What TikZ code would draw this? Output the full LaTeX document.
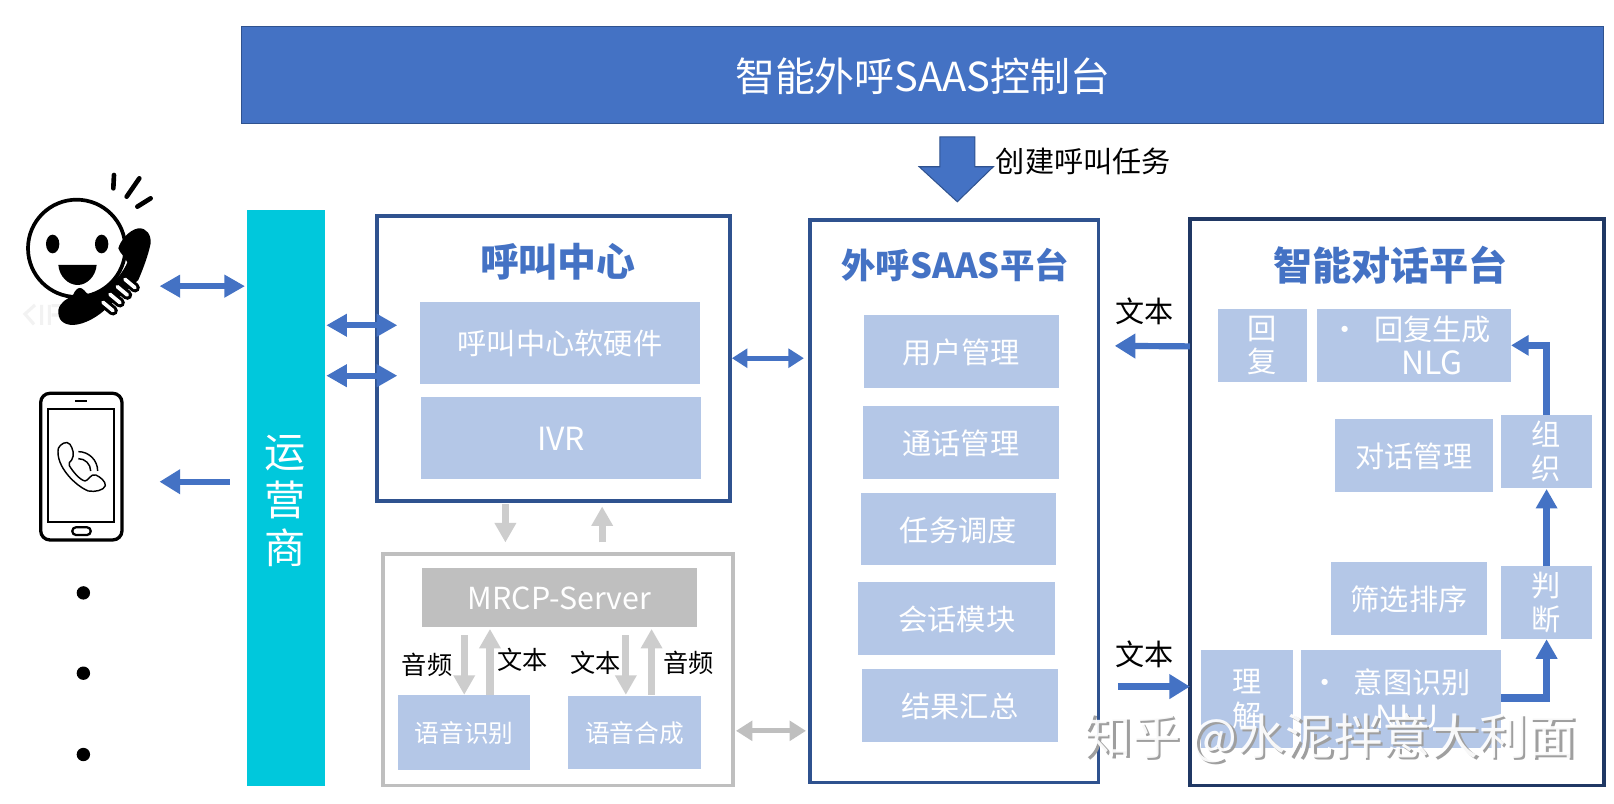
\documentclass[tikz,border=0pt]{standalone}
\usepackage{fontspec}
\setmainfont{Noto Sans CJK SC}
\usetikzlibrary{arrows.meta,calc}
\definecolor{barblue}{HTML}{4472C4}
\definecolor{barline}{HTML}{2F528F}
\definecolor{navy}{HTML}{203864}
\definecolor{lite}{HTML}{B4C7E7}
\definecolor{teal1}{HTML}{00C8DC}
\definecolor{gr}{HTML}{BFBFBF}
\definecolor{grl}{HTML}{CDCDCD}
\newcommand\fz[1]{\fontsize{#1}{#1}\selectfont}
\newcommand\dn[1]{\raisebox{-1pt}[\height][\depth]{#1}}
\tikzset{
  x=1pt,y=-1pt,
  plain/.style={inner sep=0pt,outer sep=0pt,align=center},
  lb/.style={plain,fill=lite,text=white,font=\fz{28.4}},
  frame/.style={plain,draw=barline,line width=3.5pt,fill=white},
  ttl/.style={plain,text=barblue,font=\bfseries\fz{37.8}},
  lab/.style={plain,text=black,font=\fz{28.3}},
  slab/.style={plain,text=black,font=\fz{24.5}},
  opch/.style={plain,text=white,font=\fz{40}},
  blue1/.style={draw=barblue,line width=6pt,-{Triangle[length=20pt,width=23pt]}},
  blue2/.style={draw=barblue,line width=6pt,{Triangle[length=20pt,width=21pt]}-{Triangle[length=20pt,width=21pt]}},
  elbow/.style={draw=barblue,line width=7pt,-{Triangle[length=19pt,width=20pt]}},
  grayA/.style={draw=grl,line width=7pt,-{Triangle[length=19pt,width=20pt]}},
  grayD/.style={draw=gr,line width=5pt,{Triangle[length=16pt,width=19pt]}-{Triangle[length=16pt,width=19pt]}},
  ink/.style={draw=black},
}
\newcommand\bx[7][lb]{\node[#1,minimum width={(#5-#3)*1pt},minimum height={(#6-#4)*1pt}] (#2) at ({(#3+#5)/2},{(#4+#6)/2}) {#7};}
\begin{document}
\begin{tikzpicture}
\useasboundingbox (0,0) rectangle (1568,781);
\fill[white] (0,0) rectangle (1568,781);
% top bar
\bx[plain,fill=barblue,draw=barline,line width=1pt,text=white,font=\fz{38.8}]{top}{235}{26}{1558}{120}{\dn{智能外呼SAAS控制台}}
\coordinate (ta) at (930,133);
\draw[draw=barline,line width=1pt,fill=barblue,line join=miter] (ta) ++(-17,0) -- ++(34,0) -- ++(0,29) -- ++(18,0) -- (930,196) -- (893,162) -- ++(20,0) -- cycle;
\node[lab] (create) at (1052.5,157) {创建呼叫任务};
% operator
\bx[plain,fill=teal1]{op}{240}{204}{316}{764}{}
\node[opch] (op1) at (277,440) {运};
\node[opch] (op2) at (277,486) {营};
\node[opch] (op3) at (277,532) {商};
% call centre
\bx[frame]{cc}{366}{210}{709}{487}{}
\node[ttl] (cct) at (542,254) {呼叫中心};
\bx{hw}{408}{293}{680}{373}{\dn{呼叫中心软硬件}}
\bx[lb,font=\fz{31}]{ivr}{409}{386}{681}{465}{\dn{IVR}}
% MRCP
\bx[plain,draw=gr,line width=3.5pt,fill=white]{mg}{372}{538}{712}{763}{}
\bx[plain,fill=gr,text=white,font=\fz{29.5}]{mrcp}{410}{552}{677}{609}{\dn{MRCP-Server}}
\bx[lb,font=\fz{24}]{asr}{387}{675}{515}{748}{\dn{语音识别}}
\bx[lb,font=\fz{24}]{tts}{552}{676}{681}{747}{\dn{语音合成}}
% SaaS
\bx[frame]{saas}{787}{214}{1067}{760}{}
\node[ttl,font=\bfseries\fz{33.5}] (saast) at (928,257) {外呼SAAS平台};
\bx{s1}{839}{306}{1029}{377}{\dn{用户管理}}
\bx{s2}{838}{394}{1029}{465}{\dn{通话管理}}
\bx{s3}{836}{479}{1026}{549}{\dn{任务调度}}
\bx{s4}{834}{565}{1025}{636}{\dn{会话模块}}
\bx{s5}{837}{650}{1028}{721}{\dn{结果汇总}}
% dialog
\bx[frame,draw=navy]{dlg}{1156}{213}{1558}{763}{}
\node[ttl,font=\bfseries\fz{38}] (dlgt) at (1351,258) {智能对话平台};
\bx[lb,align=center]{reply}{1183}{300}{1270}{371}{回\\[4pt]复}
\bx[lb,align=center]{nlg}{1279}{300}{1468}{371}{•\hspace{14pt}回复生成\hspace*{6pt}\\[4pt]\hspace*{35pt}{\fz{31}NLG}}
\bx{dm}{1297}{407}{1450}{478}{\dn{对话管理}}
\bx[lb,align=center]{org}{1458}{403}{1547}{474}{组\\[4pt]织}
\bx{rank}{1293}{546}{1445}{617}{\dn{筛选排序}}
\bx[lb,align=center]{jud}{1458}{550}{1547}{621}{判\\[4pt]断}
\bx[lb,align=center]{und}{1167}{631}{1256}{727}{理\\[5pt]解}
\bx[lb,align=center]{nlu}{1264}{631}{1458}{727}{•\hspace{14pt}意图识别\hspace*{20pt}\\[5pt]\hspace*{12pt}{\fz{31}NLU}}
% flow in dialog
\coordinate (nluout) at (1458,678);
\draw[elbow] (nluout) -| (jud.south);
\draw[elbow] (jud.north) -- ($(org.south)+(0,1)$);
\draw[elbow,-{Triangle[length=17pt,width=19pt]}] (org.north) |- (nlg.east);
% text arrows
\coordinate (lt) at (1083,336);
\draw[blue1] ($(dlg.west |- reply)+(0,1)$) -- (lt);
\node[lab] (txt1) at (1112,302) {文本};
\coordinate (rt) at (1086,667);
\draw[blue1] (rt) -- (dlg.west |- rt);
\node[lab] (txt2) at (1112,636) {文本};
% left arrows
\coordinate (a1a) at (155,278); \coordinate (a1b) at (238,278);
\draw[blue2] (a1a) -- (a1b);
\coordinate (a2a) at (223,468); \coordinate (a2b) at (155,468);
\draw[blue1] (a2a) -- (a2b);
\coordinate (a3a) at (317,316); \coordinate (a3b) at (386,316);
\draw[blue2] (a3a) -- (a3b);
\coordinate (a4a) at (317,365); \coordinate (a4b) at (386,365);
\draw[blue2] (a4a) -- (a4b);
\coordinate (a5a) at (711,348); \coordinate (a5b) at (781,348);
\draw[blue2,line width=5pt,{Triangle[length=15pt,width=18pt]}-{Triangle[length=15pt,width=18pt]}] (a5a) -- (a5b);
\coordinate (a6a) at (715,710); \coordinate (a6b) at (783,710);
\draw[grayD] (a6a) -- (a6b);
% gray arrows
\coordinate (g1a) at (491,490); \coordinate (g1b) at (491,527);
\draw[grayA] (g1a) -- (g1b);
\coordinate (g2a) at (585,527); \coordinate (g2b) at (585,492);
\draw[grayA] (g2a) -- (g2b);
\coordinate (g3a) at (451,617); \coordinate (g3b) at (451,675);
\draw[grayA] (g3a) -- (g3b);
\coordinate (g4a) at (476,675); \coordinate (g4b) at (476,611);
\draw[grayA] (g4a) -- (g4b);
\coordinate (g5a) at (608,617); \coordinate (g5b) at (608,675);
\draw[grayA] (g5a) -- (g5b);
\coordinate (g6a) at (633,675); \coordinate (g6b) at (633,611);
\draw[grayA] (g6a) -- (g6b);
\node[slab] (m1) at (415,646) {音频};
\node[slab] (m2) at (508,641) {文本};
\node[slab] (m3) at (579,644) {文本};
\node[slab] (m4) at (669,644) {音频};
% dots
\fill[black] (81,576) circle (6.5);
\fill[black] (81,654) circle (6.5);
\fill[black] (81,733) circle (6.5);
% face icon
\begin{scope}[shift={(9.715,160.3)},x=0.3238pt,y=-0.3238pt]
  \draw[black!5,line width=3pt] (75,420) -- (45,447) -- (72,478) (95,420) -- (95,480) (118,420) -- (118,480) (125,422) -- (172,422) (125,450) -- (172,450);
  \draw[black,line width=3.6pt] (200,250) circle (146);
  \fill[black] (128,237) ellipse (20 and 28);
  \fill[black] (275,237) ellipse (20 and 28);
  \fill[black] (145,300) -- (260,300) .. controls (257,335) and (230,360) .. (203,360) .. controls (175,360) and (148,335) .. (145,300) -- cycle;
  \fill[black] (325,250) .. controls (330,230) and (355,195) .. (385,190) .. controls (410,188) and (424,210) .. (422,235)
     .. controls (415,270) and (400,310) .. (385,345) -- (295,425) .. controls (265,455) and (225,478) .. (190,480)
     .. controls (160,480) and (143,465) .. (145,435) .. controls (150,410) and (175,400) .. (188,392)
     .. controls (195,375) and (205,365) .. (215,370) .. controls (225,375) and (232,392) .. (245,392)
     .. controls (285,380) and (335,335) .. (352,292) .. controls (345,275) and (330,265) .. (325,250) -- cycle;
  \foreach \xx/\yy in {345/343,322/365,300/388,279/412}{
    \draw[black,line width=9.5pt,line cap=round] (\xx,\yy) -- ++(30,25);
    \draw[white,line width=3.6pt,line cap=round] (\xx,\yy) -- ++(30,25);
  }
  \draw[black,line width=4.5pt,line cap=round] (312,30) -- (310,70);
  \draw[black,line width=4.5pt,line cap=round] (388,40) -- (350,95);
  \draw[black,line width=4.5pt,line cap=round] (422,100) -- (382,125);
\end{scope}
% phone icon
\begin{scope}[shift={(29.15,374)},x=0.3238pt,y=-0.3238pt]
  \draw[ink,line width=3.2pt,rounded corners=9pt] (32,25) rectangle (276,465);
  \draw[ink,line width=2.2pt] (55,73) rectangle (252,412);
  \draw[ink,line width=2.2pt] (135,49) -- (172,49);
  \draw[ink,line width=2.2pt,rounded corners=3.5pt] (127,427) rectangle (182,450);
  \draw[ink,line width=1.4pt,line join=round] (85,190) .. controls (90,178) and (110,165) .. (120,178) .. controls (128,190) and (135,210) .. (125,225)
     .. controls (118,232) and (115,235) .. (118,242) .. controls (130,262) and (150,285) .. (165,288)
     .. controls (175,288) and (182,265) .. (197,270) .. controls (210,275) and (228,290) .. (226,302)
     .. controls (222,316) and (195,322) .. (175,318) .. controls (140,305) and (75,245) .. (85,190) -- cycle;
  \draw[ink,line width=1.4pt] (145,200) arc[start angle=-90,end angle=0,radius=58];
  \draw[ink,line width=1.4pt] (145,221) arc[start angle=-90,end angle=0,radius=37];
\end{scope}
% watermark
\node[plain,text=gray!75,font=\fz{47}] (wm0) at (1294.5,719) {知乎 @水泥拌意大利面};
\node[plain,text=white,opacity=0.92,font=\fz{47}] (wm) at (1292,717) {知乎 @水泥拌意大利面};
\end{tikzpicture}
\end{document}
